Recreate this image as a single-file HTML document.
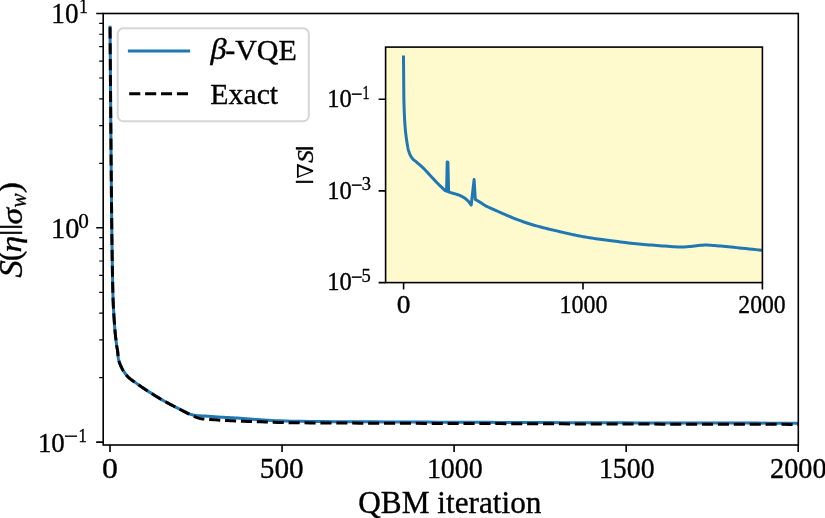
<!DOCTYPE html><html><head><meta charset="utf-8"><title>QBM iteration plot</title><style>html,body{margin:0;padding:0;background:#fff;overflow:hidden;}svg{display:block;}text{fill:#000;stroke:#000;stroke-width:0.35px;}</style></head><body>
<svg width="825" height="518" viewBox="0 0 825 518">
<rect width="825" height="518" fill="#fff"/>
<defs><clipPath id="cm"><rect x="103.20" y="13.50" width="695.10" height="431.50"/></clipPath>
<clipPath id="ci"><rect x="385.60" y="47.10" width="376.80" height="235.50"/></clipPath></defs>
<g clip-path="url(#cm)">
<polyline points="110.05,27.30 110.09,32.93 110.15,40.43 110.21,49.36 110.29,59.28 110.37,69.74 110.45,80.31 110.53,90.54 110.60,100.00 110.67,108.95 110.75,117.92 110.82,126.89 110.90,135.79 110.97,144.60 111.05,153.27 111.12,161.75 111.20,170.00 111.28,178.12 111.35,186.17 111.42,194.11 111.50,201.88 111.58,209.40 111.65,216.64 111.73,223.53 111.80,230.00 111.87,236.03 111.95,241.64 112.02,246.90 112.09,251.88 112.17,256.61 112.24,261.17 112.32,265.62 112.40,270.00 112.48,274.30 112.56,278.44 112.64,282.42 112.72,286.25 112.80,289.92 112.89,293.44 112.99,296.80 113.10,300.00 113.22,303.03 113.35,305.87 113.49,308.54 113.63,311.06 113.78,313.45 113.92,315.73 114.06,317.90 114.20,320.00 114.33,321.97 114.45,323.77 114.56,325.43 114.68,327.00 114.80,328.51 114.92,329.98 115.06,331.47 115.20,333.00 115.36,334.59 115.53,336.21 115.71,337.84 115.90,339.44 116.09,340.98 116.27,342.45 116.44,343.79 116.60,345.00 116.74,346.02 116.88,346.86 117.00,347.58 117.12,348.21 117.24,348.82 117.36,349.46 117.48,350.17 117.60,351.00 117.71,351.96 117.81,352.99 117.89,354.07 117.98,355.19 118.09,356.32 118.22,357.45 118.38,358.55 118.60,359.60 118.87,360.63 119.18,361.66 119.53,362.68 119.90,363.68 120.29,364.66 120.70,365.62 121.10,366.53 121.50,367.40 121.89,368.22 122.29,368.99 122.70,369.73 123.11,370.43 123.54,371.11 123.98,371.78 124.43,372.44 124.90,373.10 125.37,373.75 125.83,374.36 126.30,374.96 126.78,375.55 127.30,376.14 127.86,376.74 128.49,377.36 129.20,378.00 129.99,378.66 130.84,379.33 131.75,380.01 132.71,380.71 133.72,381.41 134.75,382.13 135.82,382.87 136.90,383.63 138.00,384.41 139.14,385.21 140.31,386.02 141.51,386.86 142.74,387.70 144.00,388.55 145.29,389.41 146.60,390.28 147.98,391.18 149.46,392.12 150.98,393.09 152.52,394.06 154.05,395.00 155.51,395.91 156.87,396.75 158.10,397.50 159.17,398.15 160.11,398.71 160.95,399.20 161.74,399.66 162.50,400.09 163.27,400.52 164.09,400.98 165.00,401.48 165.99,402.02 167.01,402.59 168.07,403.17 169.15,403.75 170.24,404.33 171.34,404.91 172.43,405.49 173.50,406.04 174.55,406.57 175.57,407.09 176.58,407.60 177.59,408.11 178.63,408.61 179.70,409.12 180.82,409.65 182.00,410.20 183.23,410.79 184.49,411.44 185.79,412.11 187.13,412.79 188.52,413.44 189.95,414.04 191.45,414.57 193.00,415.00 194.65,415.32 196.39,415.56 198.20,415.72 200.06,415.84 201.94,415.92 203.80,416.00 205.63,416.08 207.40,416.20 209.10,416.34 210.76,416.47 212.39,416.60 214.00,416.73 215.61,416.86 217.24,416.98 218.90,417.09 220.60,417.20 222.27,417.29 223.87,417.37 225.45,417.43 227.06,417.49 228.77,417.56 230.63,417.65 232.68,417.76 235.00,417.90 237.52,418.08 240.15,418.30 242.94,418.54 245.90,418.80 249.06,419.06 252.45,419.32 256.08,419.57 260.00,419.80 263.87,420.01 267.54,420.22 271.26,420.43 275.31,420.63 279.95,420.81 285.43,420.99 292.03,421.15 300.00,421.30 309.63,421.43 320.78,421.54 333.11,421.63 346.25,421.72 359.86,421.79 373.59,421.86 387.09,421.93 400.00,422.00 412.50,422.06 425.00,422.12 437.50,422.17 450.00,422.22 462.50,422.26 475.00,422.31 487.50,422.35 500.00,422.40 512.50,422.45 525.00,422.50 537.50,422.56 550.00,422.61 562.50,422.66 575.00,422.71 587.50,422.76 600.00,422.80 612.51,422.83 625.04,422.86 637.57,422.89 650.11,422.91 662.62,422.93 675.12,422.95 687.58,422.98 700.00,423.00 713.04,423.03 727.00,423.05 741.31,423.08 755.40,423.11 768.71,423.14 780.68,423.16 790.73,423.18 798.30,423.20" fill="none" stroke="#1f77b4" stroke-width="3" stroke-linejoin="round" stroke-linecap="square"/>
<polyline points="110.05,27.30 110.09,32.93 110.15,40.43 110.21,49.36 110.29,59.28 110.37,69.74 110.45,80.31 110.53,90.54 110.60,100.00 110.67,108.95 110.75,117.92 110.82,126.89 110.90,135.79 110.97,144.60 111.05,153.27 111.12,161.75 111.20,170.00 111.28,178.12 111.35,186.17 111.42,194.11 111.50,201.88 111.58,209.40 111.65,216.64 111.73,223.53 111.80,230.00 111.87,236.03 111.95,241.64 112.02,246.90 112.09,251.88 112.17,256.61 112.24,261.17 112.32,265.62 112.40,270.00 112.48,274.30 112.56,278.44 112.64,282.42 112.72,286.25 112.80,289.92 112.89,293.44 112.99,296.80 113.10,300.00 113.22,303.03 113.35,305.87 113.49,308.54 113.63,311.06 113.78,313.45 113.92,315.73 114.06,317.90 114.20,320.00 114.33,321.97 114.45,323.77 114.56,325.43 114.68,327.00 114.80,328.51 114.92,329.98 115.06,331.47 115.20,333.00 115.36,334.59 115.53,336.21 115.71,337.84 115.90,339.44 116.09,340.98 116.27,342.45 116.44,343.79 116.60,345.00 116.74,346.02 116.88,346.86 117.00,347.58 117.12,348.21 117.24,348.82 117.36,349.46 117.48,350.17 117.60,351.00 117.71,351.96 117.81,352.99 117.89,354.07 117.98,355.19 118.09,356.32 118.22,357.45 118.38,358.55 118.60,359.60 118.87,360.63 119.18,361.66 119.53,362.68 119.90,363.68 120.29,364.66 120.70,365.62 121.10,366.53 121.50,367.40 121.89,368.22 122.29,368.99 122.70,369.73 123.11,370.43 123.54,371.11 123.98,371.78 124.43,372.44 124.90,373.10 125.37,373.75 125.83,374.36 126.30,374.96 126.78,375.55 127.30,376.14 127.86,376.74 128.49,377.36 129.20,378.00 129.99,378.66 130.84,379.33 131.75,380.01 132.71,380.71 133.72,381.41 134.75,382.13 135.82,382.87 136.90,383.63 138.00,384.41 139.14,385.21 140.31,386.02 141.51,386.86 142.74,387.70 144.00,388.55 145.29,389.41 146.60,390.28 147.98,391.18 149.46,392.12 150.98,393.09 152.52,394.06 154.05,395.00 155.51,395.91 156.87,396.75 158.10,397.50 159.17,398.15 160.11,398.71 160.95,399.20 161.74,399.66 162.50,400.09 163.27,400.52 164.09,400.98 165.00,401.48 165.99,402.02 167.01,402.58 168.07,403.15 169.15,403.73 170.24,404.31 171.34,404.89 172.43,405.47 173.50,406.04 174.58,406.61 175.68,407.19 176.80,407.78 177.91,408.36 179.00,408.93 180.05,409.48 181.06,410.01 182.00,410.50 182.88,410.96 183.70,411.39 184.48,411.79 185.22,412.18 185.93,412.55 186.63,412.91 187.31,413.26 188.00,413.60 188.65,413.93 189.24,414.24 189.79,414.54 190.34,414.83 190.91,415.11 191.53,415.40 192.21,415.69 193.00,416.00 193.84,416.33 194.70,416.69 195.60,417.05 196.56,417.42 197.60,417.78 198.76,418.12 200.05,418.43 201.50,418.70 203.14,418.93 204.96,419.13 206.92,419.31 208.99,419.46 211.13,419.60 213.31,419.74 215.47,419.87 217.60,420.00 219.68,420.13 221.75,420.26 223.83,420.37 225.93,420.48 228.08,420.59 230.30,420.69 232.60,420.80 235.00,420.90 237.39,421.00 239.68,421.10 241.99,421.19 244.40,421.29 247.01,421.38 249.92,421.48 253.21,421.59 257.00,421.70 260.98,421.83 264.94,421.97 269.08,422.12 273.62,422.27 278.78,422.42 284.75,422.56 291.75,422.69 300.00,422.80 309.77,422.89 320.99,422.97 333.33,423.04 346.44,423.10 360.00,423.15 373.66,423.20 387.11,423.25 400.00,423.30 412.50,423.35 425.00,423.39 437.50,423.42 450.00,423.46 462.50,423.49 475.00,423.52 487.50,423.56 500.00,423.60 512.50,423.65 525.00,423.70 537.50,423.75 550.00,423.81 562.50,423.86 575.00,423.91 587.50,423.96 600.00,424.00 612.51,424.03 625.04,424.06 637.57,424.09 650.11,424.11 662.62,424.13 675.12,424.15 687.58,424.18 700.00,424.20 713.04,424.23 727.00,424.25 741.31,424.28 755.40,424.31 768.71,424.34 780.68,424.36 790.73,424.38 798.30,424.40" fill="none" stroke="#000" stroke-width="3" stroke-linejoin="round" stroke-dasharray="11.1 4.8"/>
</g>
<rect x="103.20" y="13.50" width="695.10" height="431.50" fill="none" stroke="#000" stroke-width="1.6"/>
<path d="M110.00 445.00v7M282.05 445.00v7M454.10 445.00v7M626.15 445.00v7M798.20 445.00v7M103.20 13.50h-7M103.20 227.80h-7M103.20 442.10h-7" stroke="#000" stroke-width="1.6" fill="none"/>
<path d="M103.20 163.29h-4M103.20 125.55h-4M103.20 98.78h-4M103.20 78.01h-4M103.20 61.04h-4M103.20 46.70h-4M103.20 34.27h-4M103.20 23.31h-4M103.20 377.59h-4M103.20 339.85h-4M103.20 313.08h-4M103.20 292.31h-4M103.20 275.34h-4M103.20 261.00h-4M103.20 248.57h-4M103.20 237.61h-4" stroke="#000" stroke-width="1.2" fill="none"/>
<text transform="translate(101.94 478.06) scale(1.0760 1)" font-size="29.60" style="font-family:'Liberation Serif','Times New Roman',serif">0</text>
<text transform="translate(259.85 478.06) scale(0.9890 1)" font-size="29.60" style="font-family:'Liberation Serif','Times New Roman',serif">500</text>
<text transform="translate(426.89 478.06) scale(0.9450 1)" font-size="29.60" style="font-family:'Liberation Serif','Times New Roman',serif">1000</text>
<text transform="translate(598.90 478.06) scale(0.9410 1)" font-size="29.60" style="font-family:'Liberation Serif','Times New Roman',serif">1500</text>
<text transform="translate(770.11 478.06) scale(0.9550 1)" font-size="29.60" style="font-family:'Liberation Serif','Times New Roman',serif">2000</text>
<text transform="translate(51.31 23.10) scale(0.9500 1)" font-size="28.60" style="font-family:'Liberation Serif','Times New Roman',serif">10</text>
<text transform="translate(79.21 13.10) scale(0.8500 1)" font-size="20.00" style="font-family:'Liberation Serif','Times New Roman',serif">1</text>
<text transform="translate(51.01 237.50) scale(0.9900 1)" font-size="28.60" style="font-family:'Liberation Serif','Times New Roman',serif">10</text>
<text transform="translate(78.24 227.95) scale(1.0200 1)" font-size="20.75" style="font-family:'Liberation Serif','Times New Roman',serif">0</text>
<text transform="translate(37.89 451.60) scale(0.9500 1)" font-size="28.30" style="font-family:'Liberation Serif','Times New Roman',serif">10</text>
<text transform="translate(63.99 444.07) scale(1.0500 1)" font-size="24.00" style="font-family:'Liberation Serif','Times New Roman',serif">−</text>
<text transform="translate(78.55 441.80) scale(0.8600 1)" font-size="19.20" style="font-family:'Liberation Serif','Times New Roman',serif">1</text>
<text transform="translate(358.27 512.50) scale(0.9770 1)" font-size="32.00" style="font-family:'Liberation Serif','Times New Roman',serif">QBM iteration</text>
<text transform="translate(22.33 277.86) rotate(-90) scale(1.0650 1)" font-size="33.00" style="font-family:'Liberation Serif','Times New Roman',serif;font-style:italic">S</text>
<text transform="translate(20.04 261.36) rotate(-90) scale(1.0000 1)" font-size="32.00" style="font-family:'Liberation Serif','Times New Roman',serif">(</text>
<text transform="translate(21.30 252.46) rotate(-90) scale(1.1200 1)" font-size="30.20" style="font-family:'Liberation Serif','Times New Roman',serif;font-style:italic">η</text>
<text transform="translate(14.74 236.36) rotate(-90) scale(1.0500 1)" font-size="32.00" style="font-family:'Liberation Serif','Times New Roman',serif">|</text>
<text transform="translate(14.74 230.16) rotate(-90) scale(1.0500 1)" font-size="32.00" style="font-family:'Liberation Serif','Times New Roman',serif">|</text>
<text transform="translate(21.87 224.55) rotate(-90) scale(1.1700 1)" font-size="28.70" style="font-family:'Liberation Serif','Times New Roman',serif;font-style:italic">σ</text>
<text transform="translate(25.60 207.56) rotate(-90) scale(0.9200 1)" font-size="23.00" style="font-family:'Liberation Serif','Times New Roman',serif;font-style:italic">w</text>
<text transform="translate(19.50 193.23) rotate(-90) scale(1.0500 1)" font-size="32.00" style="font-family:'Liberation Serif','Times New Roman',serif">)</text>
<rect x="117.7" y="28.3" width="191.1" height="93.0" rx="5.6" ry="5.6" fill="#fff" fill-opacity="0.8" stroke="#d6d6d6" stroke-width="2"/>
<line x1="129.4" y1="51.1" x2="188.6" y2="51.1" stroke="#1f77b4" stroke-width="3" stroke-linecap="square"/>
<line x1="129.2" y1="93.8" x2="189.2" y2="93.8" stroke="#000" stroke-width="3" stroke-dasharray="11.1 4.8"/>
<text transform="translate(210.47 59.48) scale(1.1100 1)" font-size="29.00" style="font-family:'Liberation Serif','Times New Roman',serif;font-style:italic">β</text>
<text transform="translate(225.24 60.00) scale(0.9900 1)" font-size="30.30" style="font-family:'Liberation Serif','Times New Roman',serif">-VQE</text>
<text transform="translate(210.29 104.45) scale(0.9840 1)" font-size="30.30" style="font-family:'Liberation Serif','Times New Roman',serif">Exact</text>
<rect x="385.60" y="47.10" width="376.80" height="235.50" fill="#fffacd"/>
<g clip-path="url(#ci)"><polyline points="403.50,56.90 403.52,58.70 403.54,61.12 403.56,64.01 403.59,67.20 403.62,70.55 403.65,73.90 403.67,77.10 403.70,80.00 403.72,82.68 403.74,85.34 403.76,87.95 403.78,90.51 403.80,93.00 403.83,95.42 403.86,97.76 403.90,100.00 403.95,102.13 404.00,104.15 404.05,106.08 404.11,107.94 404.18,109.74 404.25,111.51 404.32,113.25 404.40,115.00 404.48,116.73 404.56,118.41 404.65,120.07 404.74,121.69 404.84,123.29 404.95,124.87 405.07,126.44 405.20,128.00 405.34,129.55 405.49,131.09 405.65,132.62 405.82,134.12 406.00,135.62 406.19,137.09 406.39,138.55 406.60,140.00 406.82,141.45 407.05,142.91 407.28,144.37 407.53,145.81 407.79,147.21 408.07,148.55 408.38,149.82 408.70,151.00 409.04,152.08 409.40,153.09 409.77,154.03 410.17,154.91 410.59,155.73 411.03,156.52 411.50,157.27 412.00,158.00 412.54,158.68 413.12,159.29 413.73,159.86 414.36,160.39 415.01,160.90 415.68,161.41 416.34,161.94 417.00,162.50 417.65,163.06 418.29,163.61 418.94,164.14 419.59,164.69 420.27,165.26 420.97,165.88 421.71,166.55 422.50,167.30 423.34,168.14 424.23,169.05 425.17,170.03 426.12,171.04 427.10,172.09 428.08,173.14 429.05,174.18 430.00,175.20 430.94,176.21 431.87,177.23 432.80,178.26 433.74,179.29 434.67,180.31 435.61,181.33 436.55,182.32 437.50,183.30 438.51,184.30 439.59,185.35 440.71,186.42 441.82,187.46 442.87,188.43 443.81,189.31 444.60,190.04 445.20,190.60 446.60,191.20 447.20,161.90 447.90,162.10 448.60,191.90 448.85,191.98 449.19,192.09 449.58,192.22 450.02,192.37 450.50,192.52 450.99,192.69 451.50,192.85 452.00,193.00 452.50,193.15 453.03,193.29 453.57,193.44 454.13,193.59 454.71,193.75 455.29,193.91 455.89,194.10 456.50,194.30 457.12,194.51 457.77,194.73 458.42,194.96 459.09,195.20 459.77,195.46 460.45,195.74 461.13,196.06 461.80,196.40 462.48,196.78 463.18,197.18 463.88,197.62 464.58,198.07 465.27,198.55 465.95,199.05 466.59,199.57 467.20,200.10 467.79,200.69 468.39,201.36 468.98,202.06 469.54,202.78 470.05,203.47 470.51,204.09 470.90,204.61 471.20,205.00 474.10,179.60 475.30,199.40 475.65,199.61 476.11,199.88 476.65,200.20 477.26,200.56 477.92,200.95 478.61,201.36 479.31,201.78 480.00,202.20 480.67,202.63 481.34,203.08 482.02,203.54 482.73,204.03 483.49,204.52 484.31,205.04 485.20,205.56 486.20,206.10 487.31,206.66 488.54,207.24 489.85,207.84 491.22,208.45 492.62,209.07 494.04,209.69 495.44,210.30 496.80,210.90 498.13,211.50 499.47,212.09 500.81,212.69 502.15,213.28 503.49,213.87 504.83,214.46 506.17,215.03 507.50,215.60 508.82,216.16 510.13,216.71 511.43,217.25 512.73,217.79 514.03,218.32 515.36,218.85 516.71,219.37 518.10,219.90 519.52,220.42 520.95,220.95 522.41,221.47 523.88,221.99 525.38,222.50 526.90,223.01 528.44,223.51 530.00,224.00 531.59,224.49 533.22,224.96 534.88,225.44 536.56,225.91 538.24,226.37 539.94,226.82 541.62,227.26 543.30,227.70 544.97,228.12 546.65,228.54 548.32,228.94 550.00,229.34 551.68,229.73 553.35,230.12 555.03,230.51 556.70,230.90 558.37,231.30 560.03,231.69 561.69,232.09 563.36,232.48 565.02,232.87 566.68,233.26 568.34,233.63 570.00,234.00 571.64,234.36 573.25,234.71 574.84,235.05 576.44,235.38 578.06,235.71 579.74,236.04 581.47,236.37 583.30,236.70 585.23,237.03 587.26,237.37 589.36,237.71 591.51,238.04 593.67,238.37 595.82,238.69 597.94,239.00 600.00,239.30 601.97,239.58 603.86,239.83 605.71,240.07 607.56,240.31 609.43,240.54 611.37,240.78 613.42,241.03 615.60,241.30 617.94,241.59 620.40,241.91 622.95,242.24 625.58,242.57 628.25,242.90 630.93,243.22 633.59,243.52 636.20,243.80 638.78,244.05 641.37,244.29 643.96,244.51 646.55,244.72 649.14,244.92 651.73,245.11 654.32,245.31 656.90,245.50 659.54,245.70 662.27,245.91 665.03,246.12 667.77,246.33 670.45,246.51 672.99,246.68 675.36,246.81 677.50,246.90 679.35,246.95 680.93,246.97 682.31,246.96 683.58,246.93 684.81,246.88 686.07,246.80 687.44,246.71 689.00,246.60 690.74,246.45 692.58,246.26 694.50,246.02 696.47,245.78 698.46,245.55 700.45,245.34 702.40,245.19 704.30,245.10 706.10,245.08 707.82,245.11 709.49,245.18 711.17,245.28 712.89,245.41 714.69,245.56 716.61,245.73 718.70,245.90 720.95,246.09 723.33,246.30 725.81,246.54 728.39,246.79 731.04,247.06 733.75,247.34 736.51,247.62 739.30,247.90 742.32,248.21 745.66,248.55 749.17,248.91 752.69,249.28 756.04,249.62 759.07,249.94 761.61,250.20 763.50,250.40" fill="none" stroke="#1f77b4" stroke-width="3" stroke-linejoin="round" stroke-linecap="square"/></g>
<rect x="385.60" y="47.10" width="376.80" height="235.50" fill="none" stroke="#000" stroke-width="1.6"/>
<path d="M403.60 282.60v7M583.00 282.60v7M762.40 282.60v7M385.60 99.20h-7M385.60 190.90h-7M385.60 282.60h-7" stroke="#000" stroke-width="1.6" fill="none"/>
<text transform="translate(396.75 313.05) scale(1.0570 1)" font-size="26.00" style="font-family:'Liberation Serif','Times New Roman',serif">0</text>
<text transform="translate(559.44 313.05) scale(0.9250 1)" font-size="26.00" style="font-family:'Liberation Serif','Times New Roman',serif">1000</text>
<text transform="translate(738.31 313.05) scale(0.9100 1)" font-size="26.00" style="font-family:'Liberation Serif','Times New Roman',serif">2000</text>
<text transform="translate(327.29 107.00) scale(0.9400 1)" font-size="26.10" style="font-family:'Liberation Serif','Times New Roman',serif">10</text>
<text transform="translate(350.94 100.77) scale(0.9700 1)" font-size="21.00" style="font-family:'Liberation Serif','Times New Roman',serif">−</text>
<text transform="translate(362.52 98.70) scale(0.7800 1)" font-size="18.00" style="font-family:'Liberation Serif','Times New Roman',serif">1</text>
<text transform="translate(327.29 198.70) scale(0.9400 1)" font-size="26.10" style="font-family:'Liberation Serif','Times New Roman',serif">10</text>
<text transform="translate(350.94 192.47) scale(0.9700 1)" font-size="21.00" style="font-family:'Liberation Serif','Times New Roman',serif">−</text>
<text x="361.67" y="190.40" font-size="18.45" style="font-family:'Liberation Serif','Times New Roman',serif">3</text>
<text transform="translate(327.29 290.40) scale(0.9400 1)" font-size="26.10" style="font-family:'Liberation Serif','Times New Roman',serif">10</text>
<text transform="translate(350.94 284.17) scale(0.9700 1)" font-size="21.00" style="font-family:'Liberation Serif','Times New Roman',serif">−</text>
<text x="361.48" y="282.10" font-size="18.45" style="font-family:'Liberation Serif','Times New Roman',serif">5</text>
<text transform="translate(309.19 185.31) rotate(-90) scale(1.8000 1)" font-size="18.35" style="font-family:'Liberation Serif','Times New Roman',serif">|</text>
<text transform="translate(313.15 178.50) rotate(-90) scale(1.0000 1)" font-size="22.20" style="font-family:'DejaVu Serif','DejaVu Sans',serif;stroke-width:0">∇</text>
<text transform="translate(312.90 162.84) rotate(-90) scale(1.0400 1)" font-size="24.10" style="font-family:'Liberation Serif','Times New Roman',serif;font-style:italic">S</text>
<text transform="translate(309.19 151.81) rotate(-90) scale(1.8000 1)" font-size="18.35" style="font-family:'Liberation Serif','Times New Roman',serif">|</text>
</svg></body></html>
